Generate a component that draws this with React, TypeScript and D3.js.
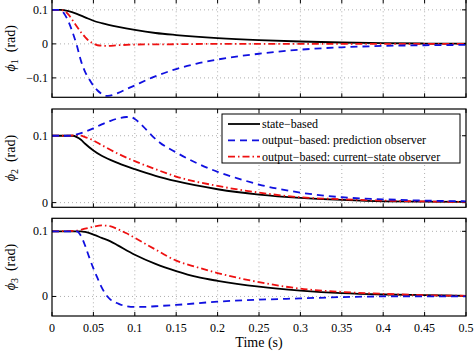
import React, { useEffect, useRef } from 'react';
import * as d3 from 'd3';

// time ticks (s)
const timeTicks = [0, 0.05, 0.1, 0.15, 0.2, 0.25, 0.3, 0.35, 0.4, 0.45, 0.5];

// phi_1 responses [t, value]
const phi1State = [[0, 0.1], [0.01, 0.1], [0.02, 0.096], [0.03, 0.088], [0.04, 0.078], [0.05, 0.068], [0.06, 0.061], [0.08, 0.05], [0.1, 0.041], [0.125, 0.032], [0.15, 0.026], [0.2, 0.017], [0.25, 0.011], [0.3, 0.007], [0.35, 0.004], [0.4, 0.002], [0.45, 0.001], [0.5, 0.0005]];
const phi1Pred = [[0, 0.1], [0.01, 0.1], [0.015, 0.088], [0.02, 0.065], [0.025, 0.033], [0.03, -0.005], [0.035, -0.05], [0.04, -0.082], [0.045, -0.104], [0.05, -0.123], [0.055, -0.137], [0.06, -0.147], [0.065, -0.153], [0.07, -0.152], [0.08, -0.144], [0.09, -0.133], [0.1, -0.122], [0.12, -0.1], [0.15, -0.074], [0.175, -0.058], [0.2, -0.046], [0.25, -0.029], [0.3, -0.017], [0.35, -0.01], [0.4, -0.006], [0.45, -0.004], [0.5, -0.003]];
const phi1Curr = [[0, 0.1], [0.01, 0.1], [0.015, 0.097], [0.02, 0.086], [0.025, 0.069], [0.03, 0.051], [0.035, 0.034], [0.04, 0.02], [0.045, 0.008], [0.05, 0.001], [0.055, -0.004], [0.065, -0.006], [0.08, -0.004], [0.1, -0.002], [0.15, -0.001], [0.2, 0], [0.5, 0]];

// phi_2 responses
const phi2State = [[0, 0.1], [0.025, 0.1], [0.03, 0.098], [0.035, 0.094], [0.04, 0.088], [0.05, 0.078], [0.06, 0.07], [0.08, 0.059], [0.1, 0.05], [0.125, 0.04], [0.15, 0.032], [0.2, 0.02], [0.25, 0.012], [0.3, 0.007], [0.35, 0.004], [0.4, 0.002], [0.5, 0.001]];
const phi2Pred = [[0, 0.1], [0.02, 0.1], [0.03, 0.102], [0.04, 0.106], [0.05, 0.111], [0.06, 0.117], [0.07, 0.122], [0.08, 0.126], [0.09, 0.128], [0.095, 0.128], [0.1, 0.125], [0.11, 0.114], [0.12, 0.101], [0.13, 0.09], [0.15, 0.075], [0.175, 0.059], [0.2, 0.046], [0.225, 0.036], [0.25, 0.027], [0.3, 0.015], [0.35, 0.008], [0.4, 0.005], [0.45, 0.003], [0.5, 0.002]];
const phi2Curr = [[0, 0.1], [0.02, 0.1], [0.03, 0.101], [0.04, 0.098], [0.05, 0.093], [0.06, 0.086], [0.08, 0.073], [0.1, 0.062], [0.125, 0.05], [0.15, 0.039], [0.2, 0.025], [0.25, 0.015], [0.3, 0.008], [0.35, 0.005], [0.4, 0.003], [0.5, 0.001]];

// phi_3 responses
const phi3State = [[0, 0.1], [0.035, 0.1], [0.04, 0.099], [0.05, 0.095], [0.06, 0.09], [0.07, 0.085], [0.08, 0.078], [0.1, 0.064], [0.125, 0.05], [0.15, 0.039], [0.175, 0.03], [0.2, 0.024], [0.25, 0.015], [0.3, 0.009], [0.35, 0.005], [0.4, 0.003], [0.45, 0.002], [0.5, 0.001]];
const phi3Pred = [[0, 0.1], [0.03, 0.1], [0.035, 0.093], [0.04, 0.078], [0.045, 0.06], [0.05, 0.043], [0.055, 0.028], [0.06, 0.014], [0.065, 0.003], [0.07, -0.004], [0.08, -0.011], [0.09, -0.015], [0.1, -0.016], [0.11, -0.016], [0.125, -0.015], [0.15, -0.013], [0.2, -0.008], [0.25, -0.005], [0.3, -0.003], [0.35, -0.001], [0.4, 0], [0.5, 0]];
const phi3Curr = [[0, 0.1], [0.03, 0.101], [0.04, 0.104], [0.05, 0.107], [0.06, 0.109], [0.07, 0.108], [0.08, 0.103], [0.09, 0.097], [0.1, 0.09], [0.125, 0.072], [0.15, 0.055], [0.175, 0.045], [0.2, 0.036], [0.25, 0.022], [0.3, 0.012], [0.35, 0.007], [0.4, 0.004], [0.45, 0.002], [0.5, 0.001]];

const legendLabels = ['state\u2212based', 'output\u2212based: prediction observer', 'output\u2212based: current\u2212state observer'];

const panels = [
  { sub: '1', domain: [-0.157, 0.131], ticks: [-0.1, 0, 0.1], series: [phi1State, phi1Pred, phi1Curr] },
  { sub: '2', domain: [-0.007, 0.14], ticks: [0, 0.1], series: [phi2State, phi2Pred, phi2Curr] },
  { sub: '3', domain: [-0.03, 0.12], ticks: [0, 0.1], series: [phi3State, phi3Pred, phi3Curr] },
];

const styles = [
  { color: '#000000', dash: null },
  { color: '#1010e0', dash: '7,5' },
  { color: '#ee1111', dash: '7,3,1.5,3' },
];

const fmt = (v: number) => (v === 0 ? '0' : String(+v.toFixed(2)).replace('-', '\u2212'));

const App = () => {
  const ref = useRef<SVGSVGElement>(null);

  useEffect(() => {
    const svg = d3.select(ref.current);
    svg.selectAll('*').remove();

    const x = d3.scaleLinear().domain([0, 0.5]).range([52, 466]);
    const rows = [[-0.7, 97.3], [109, 207.3], [218.3, 316]];

    panels.forEach((p, pi) => {
      const [top, bottom] = rows[pi];
      const y = d3.scaleLinear().domain(p.domain).range([bottom, top]);
      const g = svg.append('g');

      g.append('clipPath').attr('id', `clip${pi}`)
        .append('rect').attr('x', 52).attr('y', top).attr('width', 414).attr('height', bottom - top);

      // grid
      g.selectAll('.vg').data(timeTicks.slice(1, -1)).enter().append('line')
        .attr('x1', d => x(d)).attr('x2', d => x(d)).attr('y1', top).attr('y2', bottom)
        .attr('stroke', '#9a9a9a').attr('stroke-width', 0.8).attr('stroke-dasharray', '1,3');
      g.selectAll('.hg').data(p.ticks).enter().append('line')
        .attr('x1', 52).attr('x2', 466).attr('y1', d => y(d)).attr('y2', d => y(d))
        .attr('stroke', '#9a9a9a').attr('stroke-width', 0.8).attr('stroke-dasharray', '1,3');

      // ticks inward
      timeTicks.forEach(t => {
        g.append('line').attr('x1', x(t)).attr('x2', x(t)).attr('y1', bottom).attr('y2', bottom - 4).attr('stroke', '#000');
        g.append('line').attr('x1', x(t)).attr('x2', x(t)).attr('y1', top).attr('y2', top + 4).attr('stroke', '#000');
      });
      p.ticks.forEach(v => {
        g.append('line').attr('x1', 52).attr('x2', 56).attr('y1', y(v)).attr('y2', y(v)).attr('stroke', '#000');
        g.append('line').attr('x1', 466).attr('x2', 462).attr('y1', y(v)).attr('y2', y(v)).attr('stroke', '#000');
        g.append('text').attr('x', 48).attr('y', y(v)).attr('dy', '0.33em')
          .attr('text-anchor', 'end').attr('font-size', 12)
          .text(fmt(v));
      });

      const line = d3.line<number[]>().x(d => x(d[0])).y(d => y(d[1])).curve(d3.curveMonotoneX);
      [0, 2, 1].forEach(si => {
        g.append('path').datum(p.series[si])
          .attr('d', line)
          .attr('clip-path', `url(#clip${pi})`)
          .attr('fill', 'none')
          .attr('stroke', styles[si].color)
          .attr('stroke-width', 1.8)
          .attr('stroke-dasharray', styles[si].dash);
      });

      g.append('rect').attr('x', 52).attr('y', top).attr('width', 414).attr('height', bottom - top)
        .attr('fill', 'none').attr('stroke', '#000').attr('stroke-width', 1.2);

      // y label
      const lbl = g.append('text')
        .attr('transform', `translate(15, ${(top + bottom) / 2}) rotate(-90)`)
        .attr('text-anchor', 'middle')
        .attr('font-size', 14);
      lbl.append('tspan').attr('font-style', 'italic').text('\u03d5');
      lbl.append('tspan').attr('dy', 3).attr('font-size', 10).text(p.sub);
      lbl.append('tspan').attr('dy', -3).attr('dx', 7).text('(rad)');

      if (pi === 2) {
        timeTicks.forEach(t => {
          g.append('text').attr('x', x(t)).attr('y', 332).attr('text-anchor', 'middle')
            .attr('font-size', 12).text(fmt(t));
        });
        g.append('text').attr('x', x(0.25)).attr('y', 347).attr('text-anchor', 'middle')
          .attr('font-size', 14).text('Time (s)');
      }

      if (pi === 1) {
        const lg = g.append('g');
        lg.append('rect').attr('x', 222).attr('y', 114).attr('width', 238).attr('height', 49)
          .attr('fill', '#fff').attr('stroke', '#000').attr('stroke-width', 1);
        legendLabels.forEach((name, i) => {
          const ly = 124 + i * 16.3;
          lg.append('line').attr('x1', 228).attr('x2', 260).attr('y1', ly).attr('y2', ly)
            .attr('stroke', styles[i].color).attr('stroke-width', 1.8)
            .attr('stroke-dasharray', styles[i].dash);
          lg.append('text').attr('x', 262).attr('y', ly).attr('dy', '0.33em')
            .attr('font-size', 12).text(name);
        });
      }
    });
  }, []);

  return (
    <svg ref={ref} width={474} height={351} fontFamily="'Liberation Serif', serif"
      style={{ position: 'absolute', left: 0, top: 0, background: '#fff' }} />
  );
};

export default App;
